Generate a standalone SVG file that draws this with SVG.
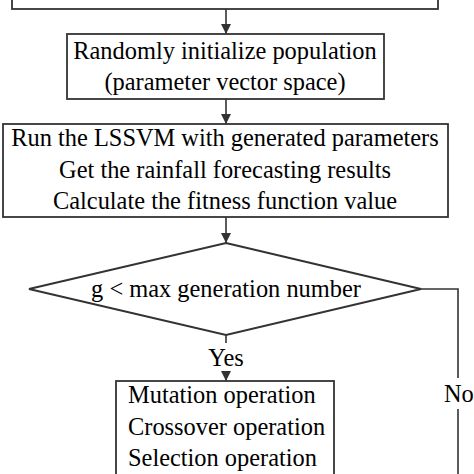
<svg xmlns="http://www.w3.org/2000/svg" width="474" height="474" viewBox="0 0 474 474">
<defs>
<style>
.box{fill:#fff;stroke:#333;stroke-width:1.8}
.ln{fill:none;stroke:#333;stroke-width:1.6}
text{font-family:Liberation Serif,serif;font-size:24.4px;fill:#000}
.c{text-anchor:middle}
</style>
<marker id="ah" viewBox="0 0 10 10" refX="10" refY="5" markerWidth="10" markerHeight="10" markerUnits="userSpaceOnUse" orient="auto">
<path d="M0,0 L10,5 L0,10 z" fill="#333"/>
</marker>
</defs>
<rect width="474" height="474" fill="#fff"/>
<g id="connectors">
<line class="ln" x1="226" y1="9" x2="226" y2="34" marker-end="url(#ah)"/>
<line class="ln" x1="226" y1="99" x2="226" y2="124" marker-end="url(#ah)"/>
<line class="ln" x1="226" y1="217" x2="226" y2="243" marker-end="url(#ah)"/>
<line class="ln" x1="226" y1="335" x2="226" y2="343"/>
<line class="ln" x1="226" y1="371" x2="226" y2="381" marker-end="url(#ah)"/>
<text class="c" x="226" y="366">Yes</text>
<polyline class="ln" points="421,289 458,289 458,378"/>
<line class="ln" x1="458" y1="409" x2="458" y2="476"/>
<text x="444" y="402">No</text>
</g>
<g id="n0">
<rect class="box" x="12" y="-20" width="426" height="29"/>
</g>
<g id="n1">
<rect class="box" x="67" y="34" width="317" height="65"/>
<text class="c" x="225" y="59">Randomly initialize population</text>
<text class="c" x="225" y="90">(parameter vector space)</text>
</g>
<g id="n2">
<rect class="box" x="3" y="124" width="445" height="93"/>
<text class="c" x="225" y="146">Run the LSSVM with generated parameters</text>
<text class="c" x="225" y="178">Get the rainfall forecasting results</text>
<text class="c" x="225" y="209">Calculate the fitness function value</text>
</g>
<g id="n3">
<polygon class="box" points="226,243 421,289 226,335 29,289"/>
<text class="c" x="226" y="297">g &lt; max generation number</text>
</g>
<g id="n4">
<rect class="box" x="116" y="381" width="218" height="110"/>
<text x="128" y="403">Mutation operation</text>
<text x="128" y="435">Crossover operation</text>
<text x="128" y="466">Selection operation</text>
</g>
</svg>
